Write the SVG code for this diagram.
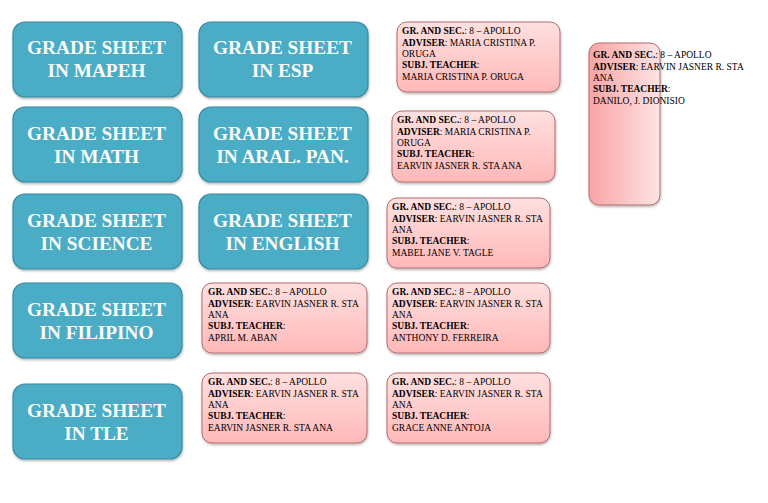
<svg xmlns="http://www.w3.org/2000/svg" width="768" height="503" viewBox="0 0 768 503">
<defs>
<linearGradient id="pinkV" x1="0" y1="0" x2="0" y2="1">
<stop offset="0" stop-color="#ffe0e0"/>
<stop offset="1" stop-color="#ffb8b8"/>
</linearGradient>
<linearGradient id="pinkH" x1="0" y1="0" x2="1" y2="0">
<stop offset="0" stop-color="#f8a4a4"/>
<stop offset="1" stop-color="#ffe3e3"/>
</linearGradient>
<filter id="sh" x="-10%" y="-10%" width="120%" height="130%">
<feDropShadow dx="0.5" dy="1.5" stdDeviation="1" flood-color="#000" flood-opacity="0.3"/>
</filter>
</defs>
<style>
.blue{fill:#4bacc6;stroke:#3a8aa0;stroke-width:1.2;filter:url(#sh)}
.pink{fill:url(#pinkV);stroke:#b36e6e;stroke-width:1;filter:url(#sh)}
.pinkt{fill:url(#pinkH);stroke:#b36e6e;stroke-width:1;filter:url(#sh)}
.bt{font-family:"Liberation Serif","Times New Roman",serif;font-weight:bold;font-size:19.3px;fill:#fbfbf6;text-anchor:middle}
.pt{font-family:"Liberation Serif","Times New Roman",serif;font-size:9.5px;fill:#000}
.b{font-weight:bold}
</style>
<rect width="768" height="503" fill="#ffffff"/>

<g id="mapeh"><rect class="blue" x="13" y="22" width="169" height="75" rx="12"/><text class="bt" x="96.5" y="54">GRADE SHEET</text><text class="bt" x="96.5" y="77">IN MAPEH</text></g>
<g id="esp"><rect class="blue" x="199" y="22" width="169" height="75" rx="12"/><text class="bt" x="282.5" y="54">GRADE SHEET</text><text class="bt" x="282.5" y="77">IN ESP</text></g>
<g id="math"><rect class="blue" x="13" y="107" width="169" height="75" rx="12"/><text class="bt" x="96.5" y="139.5">GRADE SHEET</text><text class="bt" x="96.5" y="162.5">IN MATH</text></g>
<g id="aralpan"><rect class="blue" x="199" y="107" width="169" height="75" rx="12"/><text class="bt" x="282.5" y="139.5">GRADE SHEET</text><text class="bt" x="282.5" y="162.5">IN ARAL. PAN.</text></g>
<g id="science"><rect class="blue" x="13" y="194" width="169" height="75" rx="12"/><text class="bt" x="96.5" y="226.5">GRADE SHEET</text><text class="bt" x="96.5" y="249.5">IN SCIENCE</text></g>
<g id="english"><rect class="blue" x="199" y="194" width="169" height="75" rx="12"/><text class="bt" x="282.5" y="226.5">GRADE SHEET</text><text class="bt" x="282.5" y="249.5">IN ENGLISH</text></g>
<g id="filipino"><rect class="blue" x="13" y="283" width="169" height="75" rx="12"/><text class="bt" x="96.5" y="315.5">GRADE SHEET</text><text class="bt" x="96.5" y="338.5">IN FILIPINO</text></g>
<g id="tle"><rect class="blue" x="13" y="384" width="169" height="75" rx="12"/><text class="bt" x="96.5" y="416.5">GRADE SHEET</text><text class="bt" x="96.5" y="439.5">IN TLE</text></g>

<g id="info-esp"><rect class="pink" x="397" y="22" width="163" height="70" rx="10"/>
<text class="pt" x="402" y="34"><tspan class="b">GR. AND SEC.</tspan>: 8 – APOLLO</text>
<text class="pt" x="402" y="45.5"><tspan class="b">ADVISER</tspan>: MARIA CRISTINA P.</text>
<text class="pt" x="402" y="57">ORUGA</text>
<text class="pt" x="402" y="68"><tspan class="b">SUBJ. TEACHER</tspan>:</text>
<text class="pt" x="402" y="79.5">MARIA CRISTINA P. ORUGA</text></g>

<g id="info-aralpan"><rect class="pink" x="392" y="111" width="163" height="71" rx="10"/>
<text class="pt" x="397" y="123"><tspan class="b">GR. AND SEC.</tspan>: 8 – APOLLO</text>
<text class="pt" x="397" y="134.5"><tspan class="b">ADVISER</tspan>: MARIA CRISTINA P.</text>
<text class="pt" x="397" y="146">ORUGA</text>
<text class="pt" x="397" y="157"><tspan class="b">SUBJ. TEACHER</tspan>:</text>
<text class="pt" x="397" y="168.5">EARVIN JASNER R. STA ANA</text></g>

<g id="info-english"><rect class="pink" x="387" y="198" width="163" height="70" rx="10"/>
<text class="pt" x="392" y="210"><tspan class="b">GR. AND SEC.</tspan>: 8 – APOLLO</text>
<text class="pt" x="392" y="221.5"><tspan class="b">ADVISER</tspan>: EARVIN JASNER R. STA</text>
<text class="pt" x="392" y="233">ANA</text>
<text class="pt" x="392" y="244"><tspan class="b">SUBJ. TEACHER</tspan>:</text>
<text class="pt" x="392" y="255.5">MABEL JANE V. TAGLE</text></g>

<g id="info-filipino"><rect class="pink" x="202" y="283" width="165" height="70" rx="10"/>
<text class="pt" x="208" y="295"><tspan class="b">GR. AND SEC.</tspan>: 8 – APOLLO</text>
<text class="pt" x="208" y="306.5"><tspan class="b">ADVISER</tspan>: EARVIN JASNER R. STA</text>
<text class="pt" x="208" y="318">ANA</text>
<text class="pt" x="208" y="329"><tspan class="b">SUBJ. TEACHER</tspan>:</text>
<text class="pt" x="208" y="340.5">APRIL M. ABAN</text></g>

<g id="info-anthony"><rect class="pink" x="387" y="283" width="163" height="70" rx="10"/>
<text class="pt" x="392" y="295"><tspan class="b">GR. AND SEC.</tspan>: 8 – APOLLO</text>
<text class="pt" x="392" y="306.5"><tspan class="b">ADVISER</tspan>: EARVIN JASNER R. STA</text>
<text class="pt" x="392" y="318">ANA</text>
<text class="pt" x="392" y="329"><tspan class="b">SUBJ. TEACHER</tspan>:</text>
<text class="pt" x="392" y="340.5">ANTHONY D. FERREIRA</text></g>

<g id="info-tle"><rect class="pink" x="202" y="373" width="165" height="70" rx="10"/>
<text class="pt" x="208" y="385"><tspan class="b">GR. AND SEC.</tspan>: 8 – APOLLO</text>
<text class="pt" x="208" y="396.5"><tspan class="b">ADVISER</tspan>: EARVIN JASNER R. STA</text>
<text class="pt" x="208" y="408">ANA</text>
<text class="pt" x="208" y="419"><tspan class="b">SUBJ. TEACHER</tspan>:</text>
<text class="pt" x="208" y="430.5">EARVIN JASNER R. STA ANA</text></g>

<g id="info-grace"><rect class="pink" x="387" y="373" width="163" height="70" rx="10"/>
<text class="pt" x="392" y="385"><tspan class="b">GR. AND SEC.</tspan>: 8 – APOLLO</text>
<text class="pt" x="392" y="396.5"><tspan class="b">ADVISER</tspan>: EARVIN JASNER R. STA</text>
<text class="pt" x="392" y="408">ANA</text>
<text class="pt" x="392" y="419"><tspan class="b">SUBJ. TEACHER</tspan>:</text>
<text class="pt" x="392" y="430.5">GRACE ANNE ANTOJA</text></g>

<g id="info-danilo"><rect class="pinkt" x="589" y="43" width="71" height="162" rx="10"/>
<text class="pt" x="593" y="58"><tspan class="b">GR. AND SEC.</tspan>: 8 – APOLLO</text>
<text class="pt" x="593" y="70"><tspan class="b">ADVISER</tspan>: EARVIN JASNER R. STA</text>
<text class="pt" x="593" y="81">ANA</text>
<text class="pt" x="593" y="92"><tspan class="b">SUBJ. TEACHER</tspan>:</text>
<text class="pt" x="593" y="104">DANILO, J. DIONISIO</text></g>

<g id="connectors"></g>
</svg>
